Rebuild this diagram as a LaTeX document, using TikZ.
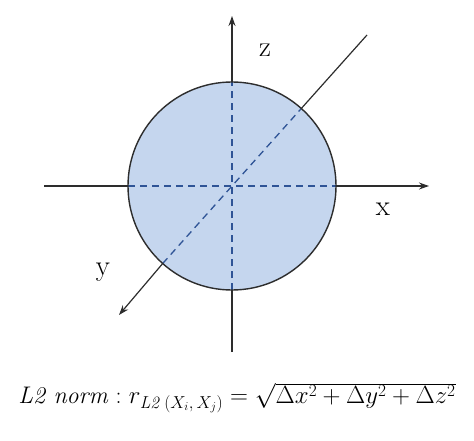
\documentclass[tikz,border=0pt]{standalone}
\usetikzlibrary{arrows.meta,calc}
\definecolor{fillblue}{RGB}{197,214,238}
\definecolor{dashblue}{RGB}{47,84,150}
\definecolor{axisgray}{RGB}{45,45,45}
\begin{document}
\begin{tikzpicture}[x=1pt,y=1pt,
  axis/.style={draw=axisgray,line width=1.2pt},
  arrowaxis/.style={axis,-{Stealth[length=10pt,width=7pt]}},
  inner/.style={draw=dashblue,line width=1.3pt,dash pattern=on 7pt off 5pt},
  lbl/.style={font=\fontsize{29}{29}\selectfont,inner sep=0pt}]
\useasboundingbox (0,0) rectangle (474,440);
\coordinate (O) at (232,254);
\coordinate (ztop) at (232,424);
\coordinate (zbot) at (232,88);
\coordinate (xl) at (44,254);
\coordinate (xr) at (429,254);
\coordinate (dtop) at (367,405);
\coordinate (dbot) at (119,125);
\coordinate (cL) at ($(O)+(180:104)$);
\coordinate (cR) at ($(O)+(0:104)$);
\coordinate (cT) at ($(O)+(90:104)$);
\coordinate (cB) at ($(O)+(270:104)$);
\coordinate (cD1) at ($(O)+(48.2:104)$);
\coordinate (cD2) at ($(O)+(228.2:104)$);
% sphere
\fill[fillblue] (O) circle (104);
\draw[inner] (cL) -- (cR);
\draw[inner] (cB) -- (cT);
\draw[inner] (cD2) -- (cD1);
% axes outside
\draw[axis] (xl) -- (cL);
\draw[arrowaxis] (cR) -- (xr);
\draw[arrowaxis] (cT) -- (ztop);
\draw[axis] (zbot) -- (cB);
\draw[axis] (cD1) -- (dtop);
\draw[arrowaxis] (cD2) -- (dbot);
\draw[draw=axisgray,line width=1.4pt] (O) circle (104);
% labels
\node[lbl] (zl) at (265,390) {z};
\node[lbl] (xlab) at (383,231) {x};
\node[lbl] (ylab) at (103,168) {y};
\node[inner sep=0pt,font=\fontsize{24}{24}\selectfont] (formula) at (237,42) {\textit{L2 norm}\ :\ $r_{\mathit{L2}\,(X_i,\,X_j)} = \sqrt{\Delta x^2+\Delta y^2+\Delta z^2}$};
\end{tikzpicture}
\end{document}
